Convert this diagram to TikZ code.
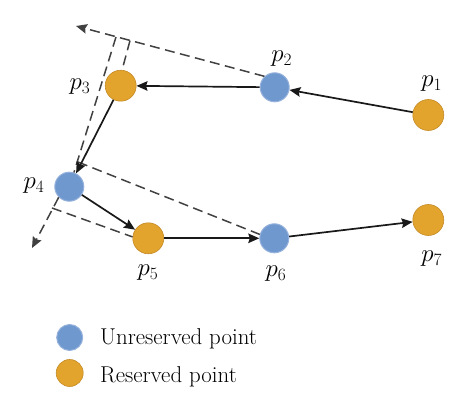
\documentclass[tikz,border=0pt]{standalone}
\usetikzlibrary{arrows.meta}
\definecolor{ublue}{RGB}{111,152,207}
\definecolor{ubluee}{RGB}{150,178,220}
\definecolor{rorange}{RGB}{227,164,46}
\definecolor{rorangee}{RGB}{196,138,36}
\definecolor{dgray}{RGB}{65,65,65}
\begin{document}
\begin{tikzpicture}[x=1pt,y=-1pt,
  unres/.style={circle,fill=ublue,draw=ubluee,line width=1pt,minimum size=29pt,inner sep=0pt},
  res/.style={circle,fill=rorange,draw=rorangee,line width=0.6pt,minimum size=31pt,inner sep=0pt},
  lunres/.style={unres,minimum size=26pt},
  lres/.style={res,minimum size=27pt},
  plabel/.style={inner sep=0pt,font=\fontsize{24}{28}\selectfont},
  legtext/.style={anchor=base west,inner sep=0pt,font=\fontsize{22.9}{26}\selectfont},
  solidarrow/.style={line width=1.7pt,draw=black!90,-{Stealth[length=11pt,width=9.5pt,inset=1.5pt]}},
  dline/.style={line width=1.5pt,draw=dgray,dash pattern=on 10pt off 5.5pt},
  darrow/.style={dline,-{Stealth[length=11pt,width=9.5pt,inset=1.5pt,fill=dgray]}}
]
\useasboundingbox (0,0) rectangle (474,419);
% points
\node[res]   (p1) at (428.3,115) {};
\node[unres] (p2) at (274.7,87.3) {};
\node[res]   (p3) at (120.7,85.7) {};
\node[unres] (p4) at (69.3,186.7) {};
\node[res]   (p5) at (148.3,238.3) {};
\node[unres] (p6) at (274.3,238.3) {};
\node[res]   (p7) at (428.3,220) {};
% labels
\node[plabel] (l1) at (431.7,84) {$p_1$};
\node[plabel] (l2) at (281.7,58.5) {$p_2$};
\node[plabel] (l3) at (80,86.5) {$p_3$};
\node[plabel] (l4) at (34,185.5) {$p_4$};
\node[plabel] (l5) at (148,272.5) {$p_5$};
\node[plabel] (l6) at (276,274) {$p_6$};
\node[plabel] (l7) at (431.7,258.5) {$p_7$};
% helper coordinates
\coordinate (a1) at (76,26);
\coordinate (f1) at (116,37);
\coordinate (f2) at (130,40.6);
\coordinate (c4) at (78,162);
\coordinate (c5) at (52,208);
\coordinate (a2) at (32,248);
% dashed construction lines
\draw[darrow] (p2.133) -- (a1);
\draw[dline] (f1) -- (p4.72);
\draw[dline] (f2) -- (p3.85);
\draw[dline] (c4) -- (p6.165);
\draw[dline] (c5) -- (p5.175);
\draw[darrow] (p4.225) -- (a2);
% solid arrows
\draw[solidarrow] (p1) -- (p2);
\draw[solidarrow] (p2) -- (p3);
\draw[solidarrow] (p3) -- (p4);
\draw[solidarrow] (p4) -- (p5);
\draw[solidarrow] (p5) -- (p6);
\draw[solidarrow] (p6) -- (p7);
% legend
\node[lunres] (k1) at (69.7,337.5) {};
\node[lres]   (k2) at (69.7,373) {};
\node[legtext] (t1) at (100,345) {Unreserved point};
\node[legtext] (t2) at (100,383) {Reserved point};
\end{tikzpicture}
\end{document}
